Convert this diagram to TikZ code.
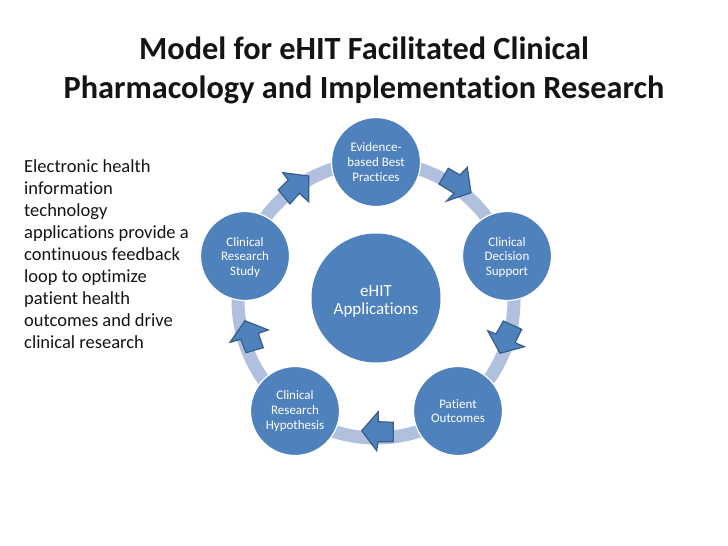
\documentclass[tikz,border=0pt]{standalone}
\usepackage{fontspec}
\setmainfont{Carlito}[RawFeature={-liga}]
\definecolor{cblue}{RGB}{79,129,189}
\definecolor{clight}{RGB}{176,192,222}
\definecolor{cedge}{RGB}{56,93,138}
\definecolor{ctext}{RGB}{20,20,20}
\tikzset{
  cyclenode/.style={circle,fill=cblue,draw=white,line width=1.2pt,minimum size=89pt,inner sep=0pt,align=center,text=white,font=\fontsize{13}{14.6}\selectfont},
  hubnode/.style={circle,fill=cblue,minimum size=129pt,inner sep=0pt,align=center,text=white,font=\fontsize{17}{18}\selectfont},
  ringarc/.style={draw=clight,line width=13pt},
  blockarrow/.style={fill=cblue,draw=cedge,line width=1.2pt,line join=miter},
  titletext/.style={font=\bfseries\fontsize{32.3}{39}\selectfont,text=ctext,align=center},
  sidetext/.style={font=\fontsize{18.5}{22}\selectfont,text=ctext,align=left,anchor=north west,inner sep=0pt}
}
\begin{document}
\begin{tikzpicture}[x=1pt,y=-1pt]
\useasboundingbox (0,0) rectangle (728,546);
\fill[white] (0,0) rectangle (728,546);
\node[titletext] (title) at (364,70.5) {Model for eHIT Facilitated Clinical\\Pharmacology and Implementation Research};
\node[sidetext] (side) at (24,159) {Electronic health\\information\\technology\\applications provide a\\continuous feedback\\loop to optimize\\patient health\\outcomes and drive\\clinical research};
\draw[ringarc] (376,300) circle[radius=138pt];
\node[hubnode] (hub) at (376,298) {\rule{0pt}{17pt}eHIT\\Applications};
\node[cyclenode] (ebp) at (376,162) {Evidence-\\based Best\\Practices};
\node[cyclenode] (cds) at (507,256) {\rule{0pt}{12pt}Clinical\\Decision\\Support};
\node[cyclenode] (po) at (458,411) {Patient\\Outcomes};
\node[cyclenode] (crh) at (295,411) {Clinical\\Research\\Hypothesis};
\node[cyclenode] (crs) at (245,256) {\rule{0pt}{12pt}Clinical\\Research\\Study};
\draw[blockarrow] (308.7,176)--(282.7,172.7)--(288.3,180)--(278.3,190)--(290,204)--(299.3,193.3)--(308.7,201.7)--cycle;
\draw[blockarrow] (471,192.7)--(467.3,167.3)--(460,175)--(448.3,168.3)--(439,184)--(454,193.3)--(446.7,201)--cycle;
\draw[blockarrow] (500,353.3)--(487.7,330.7)--(496,334)--(503.3,321)--(521.7,329.3)--(515,342.7)--(524.3,346.7)--cycle;
\draw[blockarrow] (361.7,430.7)--(378.3,411.7)--(378.3,421.7)--(393.3,422.3)--(393.3,441.7)--(378,441.7)--(376.7,450.7)--cycle;
\draw[blockarrow] (245,320.7)--(230,342.3)--(240.7,339.3)--(246,352.7)--(263.3,347.7)--(258.3,333.3)--(268.3,330)--cycle;
\end{tikzpicture}
\end{document}
